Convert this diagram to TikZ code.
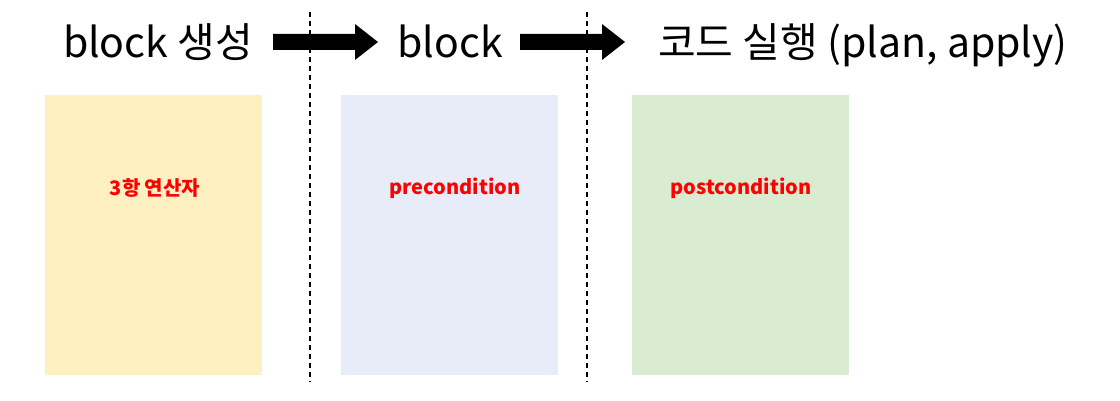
\documentclass[tikz,border=0pt]{standalone}
\usepackage{fontspec}
\setmainfont{Noto Sans CJK KR}
\definecolor{cy}{HTML}{FFF0C1}
\definecolor{cb}{HTML}{E7ECF8}
\definecolor{cg}{HTML}{D9EBD1}
\begin{document}
\begin{tikzpicture}[x=1pt,y=-1pt,
  boxy/.style={anchor=north west,inner sep=0,minimum width=217pt,minimum height=280pt},
  ttl/.style={font=\fontsize{41}{43}\selectfont,anchor=base,inner sep=0},
  lbl/.style={text=red,font=\fontsize{20}{22}\selectfont\bfseries,inner sep=0},
  bigarrow/.style={fill=black}]
\useasboundingbox (0,0) rectangle (1120,401);
\node[boxy,fill=cy] (b1) at (45,95) {};
\node[boxy,fill=cb] (b2) at (341,95) {};
\node[boxy,fill=cg] (b3) at (632,95) {};
\node[lbl] (l1) at (155,188) {3항 연산자};
\node[lbl] (l2) at (455,188) {precondition};
\node[lbl] (l3) at (741,188) {postcondition};
\draw[dash pattern=on 5pt off 4pt,line width=1.5pt] (310,12) coordinate (d1a) -- (310,382) coordinate (d1b);
\draw[dash pattern=on 5pt off 4pt,line width=1.5pt] (587,12) coordinate (d2a) -- (587,382) coordinate (d2b);
\node[ttl] (t1) at (158,58) {block 생성};
\node[ttl] (t2) at (450,58) {block};
\node[ttl] (t3) at (863,58) {코드 실행 (plan, apply)};
\fill[bigarrow] (273,34) -- (355,34) -- (355,24) -- (378,42) -- (355,60) -- (355,50) -- (273,50) -- cycle;
\fill[bigarrow] (520,34) -- (602,34) -- (602,24) -- (625,42) -- (602,60) -- (602,50) -- (520,50) -- cycle;
\end{tikzpicture}
\end{document}
